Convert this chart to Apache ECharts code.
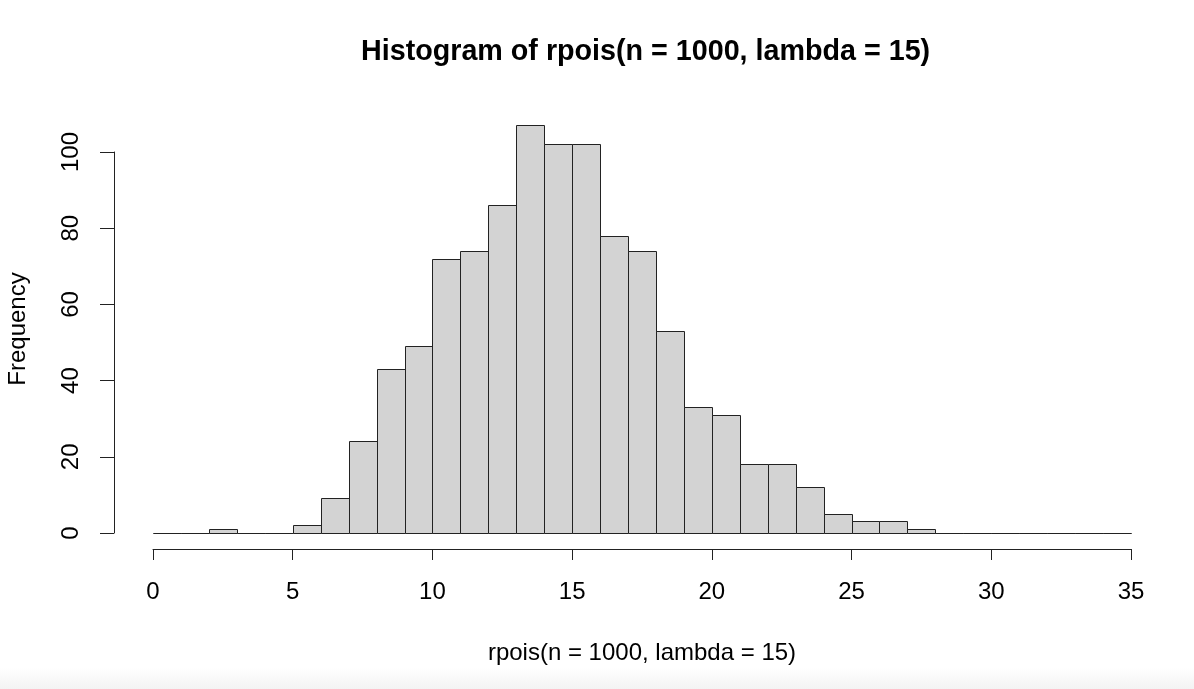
<!DOCTYPE html>
<html>
<head>
<meta charset="utf-8">
<script src="https://cdn.jsdelivr.net/npm/echarts@6/dist/echarts.min.js"></script>
<style>html,body{margin:0;padding:0;background:#fff;}#c{width:1194px;height:689px;}</style>
</head>
<body>
<div id="c"></div>
<script>
var titleText = 'Histogram of rpois(n = 1000, lambda = 15)';
var xTitle = 'rpois(n = 1000, lambda = 15)';
var yTitle = 'Frequency';
var breaks = [0,1,2,3,4,5,6,7,8,9,10,11,12,13,14,15,16,17,18,19,20,21,22,23,24,25,26,27,28,29,30,31,32,33,34,35];
var counts = [0,0,1,0,0,2,9,24,43,49,72,74,86,107,102,102,78,74,53,33,31,18,18,12,5,3,3,1,0,0,0,0,0,0,0];
var xTicks = [0,5,10,15,20,25,30,35];
var yTicks = [0,20,40,60,80,100];

var data = counts.map(function(c,i){ return [breaks[i], breaks[i+1], c]; });
var FONT = '"Liberation Sans", Arial, Helvetica, sans-serif';

var chart = echarts.init(document.getElementById('c'), null, {renderer:'canvas'});
chart.setOption({
  animation: false,
  backgroundColor: '#ffffff',
  title: {
    text: titleText, left: 356, top: 33,
    textStyle: {fontFamily: FONT, fontSize: 28.7, fontWeight: 'bold', color: '#000'}
  },
  grid: [
    {left: 114, right: 24, top: 109, bottom: 140, containLabel: false, outerBoundsMode: 'none'},
    {left: 153, right: 63, top: 539, bottom: 140, containLabel: false, outerBoundsMode: 'none'},
    {left: 114, top: 152, bottom: 156, width: 10, containLabel: false, outerBoundsMode: 'none'}
  ],
  xAxis: [
    {gridIndex: 0, type: 'value', min: -1.4, max: 36.4, show: false},
    {gridIndex: 1, type: 'value', min: xTicks[0], max: xTicks[xTicks.length-1], interval: 5,
     position: 'bottom',
     name: xTitle, nameLocation: 'middle', nameGap: 92,
     nameTextStyle: {fontFamily: FONT, fontSize: 24, color: '#000'},
     axisLine: {show: true, lineStyle: {color: '#222', width: 1}},
     axisTick: {show: true, length: 11, lineStyle: {color: '#222', width: 1}},
     axisLabel: {show: true, margin: 31, fontFamily: FONT, fontSize: 24, color: '#000'},
     splitLine: {show: false}},
    {gridIndex: 2, type: 'value', show: false}
  ],
  yAxis: [
    {gridIndex: 0, type: 'value', min: -4.28, max: 111.28,
     name: yTitle, nameLocation: 'middle', nameGap: 84, nameRotate: 90,
     nameTextStyle: {fontFamily: FONT, fontSize: 24, color: '#000'},
     axisLine: {show: false}, axisTick: {show: false}, axisLabel: {show: false}, splitLine: {show: false}},
    {gridIndex: 1, type: 'value', show: false},
    {gridIndex: 2, type: 'value', min: yTicks[0], max: yTicks[yTicks.length-1], interval: 20,
     position: 'left',
     axisLine: {show: true, lineStyle: {color: '#222', width: 1}},
     axisTick: {show: true, length: 14, lineStyle: {color: '#222', width: 1}},
     axisLabel: {show: true, rotate: 90, margin: 31, fontFamily: FONT, fontSize: 24, color: '#000'},
     splitLine: {show: false}}
  ],
  graphic: [{
    type: 'rect', left: 0, top: 668, z: -10, silent: true,
    shape: {width: 1194, height: 21},
    style: {fill: new echarts.graphic.LinearGradient(0,0,0,1,[{offset:0,color:'#ffffff'},{offset:1,color:'#f3f3f3'}])}
  }],
  series: [{
    type: 'custom', xAxisIndex: 0, yAxisIndex: 0,
    data: data,
    renderItem: function(params, api){
      var p0 = api.coord([api.value(0), api.value(2)]);
      var p1 = api.coord([api.value(1), 0]);
      var x0 = Math.round(p0[0]) + 0.5, x1 = Math.round(p1[0]) + 0.5;
      var y0 = Math.round(p0[1]) + 0.5, y1 = Math.round(p1[1]) + 0.5;
      return {
        type: 'rect',
        shape: {x: x0, y: y0, width: x1 - x0, height: y1 - y0},
        style: {fill: '#d3d3d3', stroke: '#222', lineWidth: 1}
      };
    }
  }]
});
</script>
</body>
</html>
